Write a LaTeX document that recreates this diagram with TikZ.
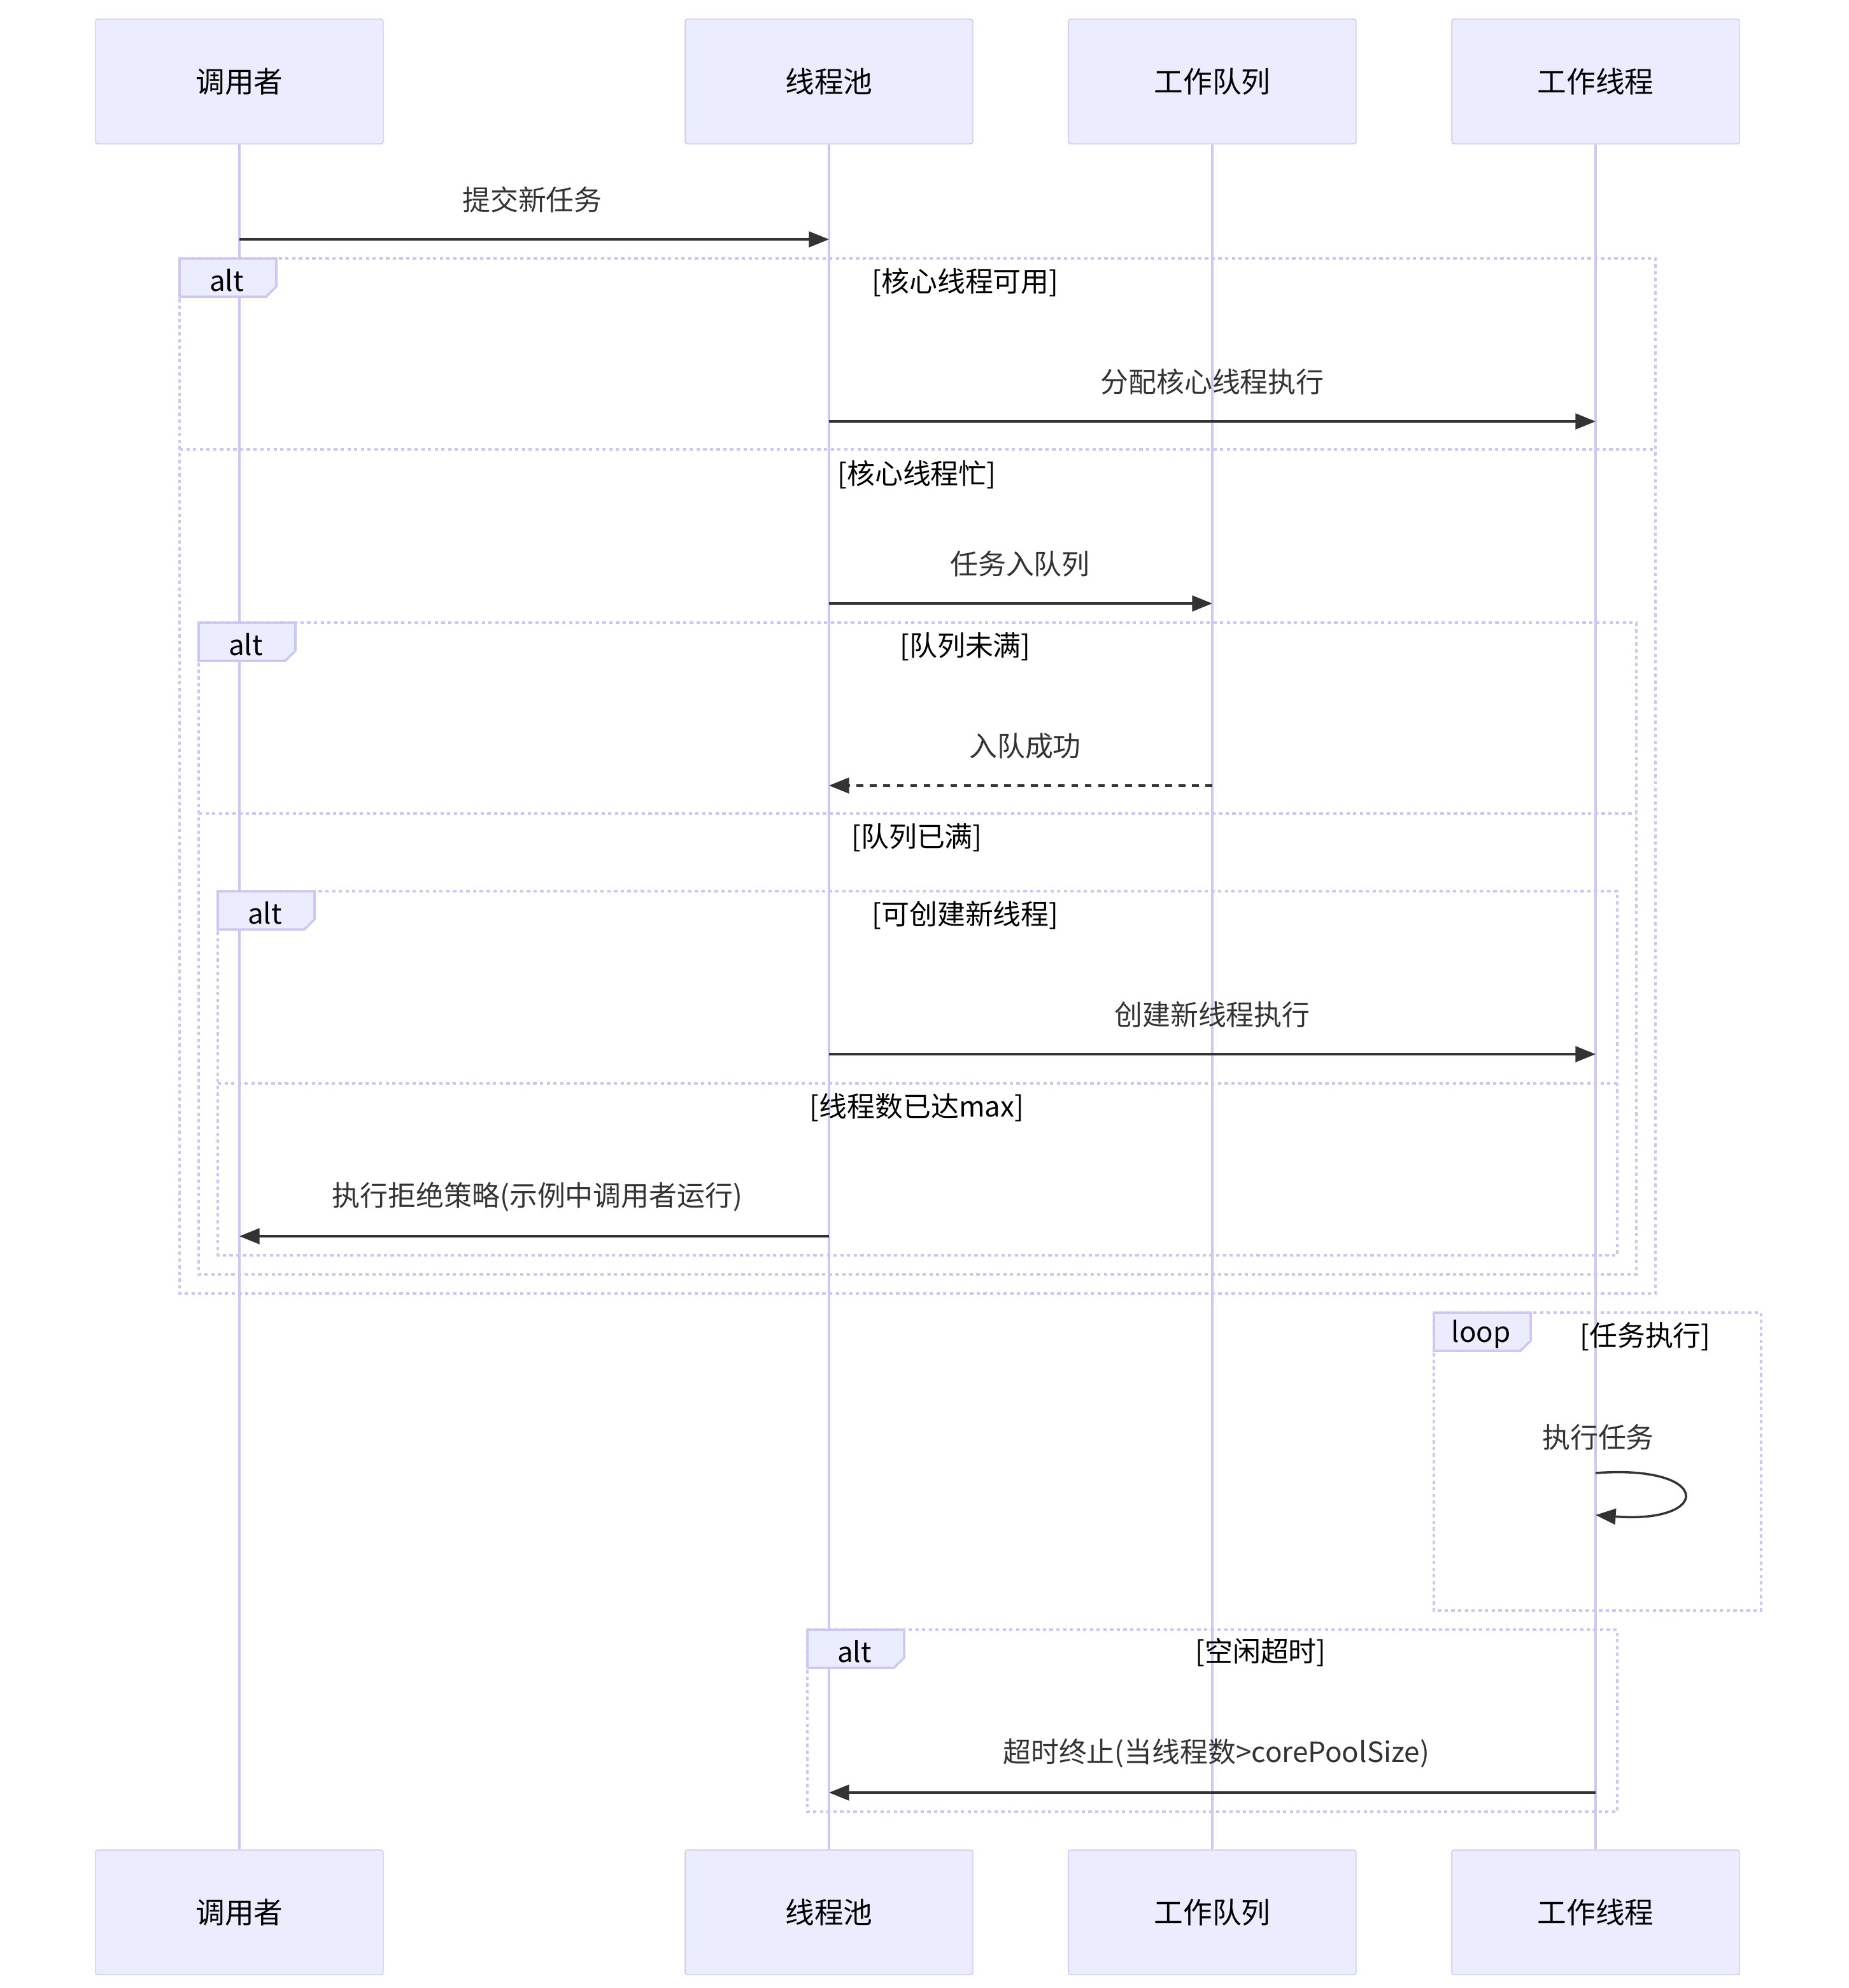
\documentclass[tikz,border=0pt]{standalone}
\usepackage{fontspec}
\setmainfont{Noto Sans CJK SC}
\usetikzlibrary{arrows.meta,positioning}
\definecolor{actfill}{HTML}{ECECFF}
\definecolor{actline}{HTML}{D0C6F2}
\definecolor{txt}{HTML}{333333}
\tikzset{
  actor/.style={draw=actline,fill=actfill,rounded corners=1pt,minimum width=4.52cm,minimum height=1.96cm,font=\fontsize{13}{15}\selectfont,text=black},
  life/.style={draw=actline,line width=1.4pt},
  msg/.style={draw=txt,line width=1pt,-{Triangle[length=9pt,width=7pt]}},
  reply/.style={msg,dash pattern=on 3pt off 3pt},
  lbl/.style={font=\fontsize{12.5}{15}\selectfont,text=txt},
  frame/.style={draw=actline,line width=1pt,dash pattern=on 1.5pt off 1.5pt},
  tag/.style={draw=actline,fill=actfill,line width=1pt},
  cond/.style={font=\fontsize{12.5}{15}\selectfont,text=black}
}
\newcommand{\fragtag}[3]{% x, y, text
  \draw[tag] (#1,#2) -- ++(76,0) -- ++(0,22) -- ++(-8,8) -- ++(-68,0) -- cycle;
  \node[cond] at (#1+37,#2+17) {#3};}
\begin{document}
\begin{tikzpicture}[x=0.02cm,y=-0.02cm]
\useasboundingbox (0,0) rectangle (1452,1561.5);
% actors
\node[actor] (call) at (188,64) {调用者};
\node[actor] (pool) at (651,64) {线程池};
\node[actor] (queue) at (952,64) {工作队列};
\node[actor] (work) at (1253,64) {工作线程};
\node[actor] (callB) at (188,1502) {调用者};
\node[actor] (poolB) at (651,1502) {线程池};
\node[actor] (queueB) at (952,1502) {工作队列};
\node[actor] (workB) at (1253,1502) {工作线程};
\foreach \a in {call,pool,queue,work}
  \draw[life] (\a.south) -- (\a B.north);

% frames
\draw[frame] (141,203) rectangle (1300,1016);
\draw[frame] (141,353) -- (1300,353);
\fragtag{141}{203}{alt}
\node[cond] at (758,222) {[核心线程可用]};
\node[cond] at (720,373) {[核心线程忙]};
\draw[frame] (156,489) rectangle (1285,1001);
\draw[frame] (156,639) -- (1285,639);
\fragtag{156}{489}{alt}
\node[cond] at (758,508) {[队列未满]};
\node[cond] at (720,658) {[队列已满]};
\draw[frame] (171,700) rectangle (1270,986);
\draw[frame] (171,851) -- (1270,851);
\fragtag{171}{700}{alt}
\node[cond] at (758,719) {[可创建新线程]};
\node[cond] at (720,870) {[线程数已达max]};
\draw[frame] (1126,1031) rectangle (1383,1265);
\fragtag{1126}{1031}{loop}
\node[cond] at (1292,1050) {[任务执行]};
\draw[frame] (634,1280) rectangle (1270,1423);
\fragtag{634}{1280}{alt}
\node[cond] at (990,1298) {[空闲超时]};

% messages
\coordinate (m1) at (0,188);
\node[lbl] at (418,157) {提交新任务};
\draw[msg] (call |- m1) -- (pool |- m1);
\coordinate (m2) at (0,331);
\node[lbl] at (952,300) {分配核心线程执行};
\draw[msg] (pool |- m2) -- (work |- m2);
\coordinate (m3) at (0,474);
\node[lbl] at (801,443) {任务入队列};
\draw[msg] (pool |- m3) -- (queue |- m3);
\coordinate (m4) at (0,617);
\node[lbl] at (805,586) {入队成功};
\draw[reply] (queue |- m4) -- (pool |- m4);
\coordinate (m5) at (0,828);
\node[lbl] at (952,797) {创建新线程执行};
\draw[msg] (pool |- m5) -- (work |- m5);
\coordinate (m6) at (0,971);
\node[lbl] at (422,940) {执行拒绝策略(示例中调用者运行)};
\draw[msg] (pool |- m6) -- (call |- m6);
\coordinate (m7) at (0,1157);
\coordinate (m7b) at (0,1190);
\node[lbl] at (1255,1129) {执行任务};
\draw[msg] (work |- m7) .. controls (1345,1150) and (1345,1197) .. (work |- m7b);
\coordinate (m8) at (0,1408);
\node[lbl] at (955,1377) {超时终止(当线程数>corePoolSize)};
\draw[msg] (work |- m8) -- (pool |- m8);
\end{tikzpicture}
\end{document}
